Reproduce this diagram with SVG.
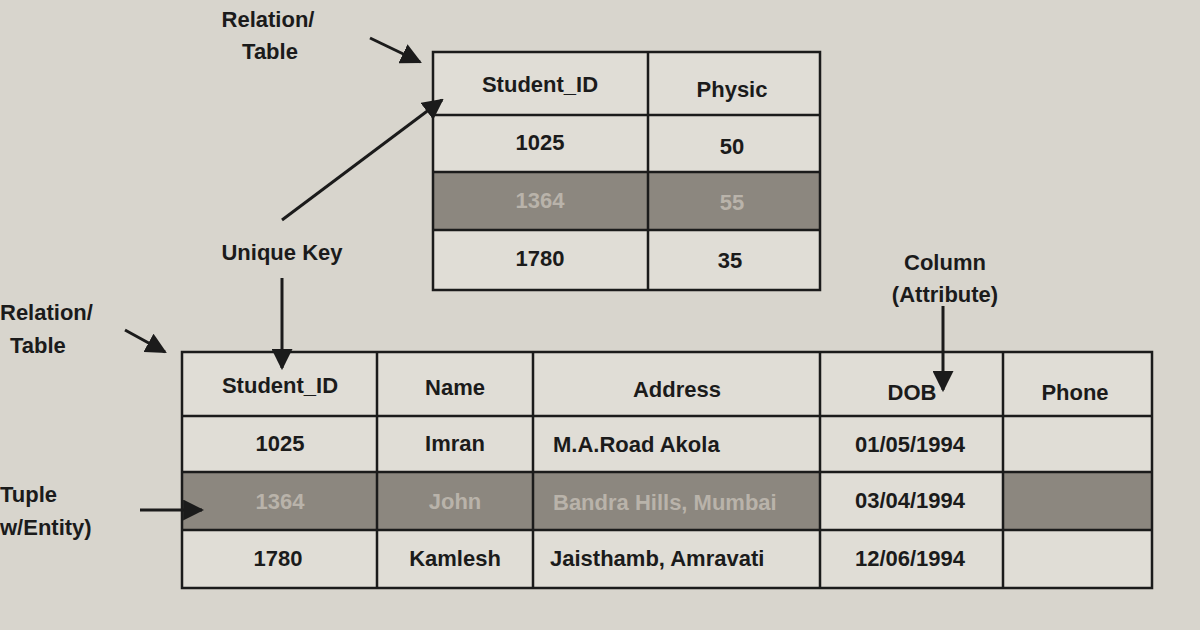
<svg xmlns="http://www.w3.org/2000/svg" width="1200" height="630" viewBox="0 0 1200 630">
<defs>
<marker id="ah" viewBox="0 0 10 10" refX="9" refY="5" markerWidth="7" markerHeight="7" orient="auto"><path d="M0,0L10,5L0,10z" fill="#1b1b1b"/></marker>
<style>
text{font-family:"Liberation Sans",Arial,sans-serif;font-weight:bold;font-size:22px;fill:#1b1b1b}
.c{text-anchor:middle}
.lt{fill:#b9b3aa}
.grid{fill:none;stroke:#1b1b1b;stroke-width:2.5}
.sh{fill:#8c877f}
.ar{stroke:#1b1b1b;stroke-width:3;fill:none;marker-end:url(#ah)}
</style>
</defs>
<rect width="1200" height="630" fill="#d8d5cd"/>
<g id="table1">
<rect x="433" y="52" width="387" height="238" fill="#e0ddd6"/>
<rect class="sh" x="433" y="172" width="387" height="58"/>
<rect class="grid" x="433" y="52" width="387" height="238"/>
<path class="grid" d="M648,52V290M433,115H820M433,172H820M433,230H820"/>
<text class="c" x="540" y="92">Student_ID</text><text class="c" x="732" y="97">Physic</text>
<text class="c" x="540" y="150">1025</text><text class="c" x="732" y="154">50</text>
<text class="c lt" x="540" y="208">1364</text><text class="c lt" x="732" y="210">55</text>
<text class="c" x="540" y="266">1780</text><text class="c" x="730" y="268">35</text>
</g>
<g id="table2">
<rect x="182" y="352" width="970" height="236" fill="#e0ddd6"/>
<rect class="sh" x="182" y="472" width="638" height="58"/>
<rect class="sh" x="1003" y="472" width="149" height="58"/>
<rect class="grid" x="182" y="352" width="970" height="236"/>
<path class="grid" d="M377,352V588M533,352V588M820,352V588M1003,352V588M182,416H1152M182,472H1152M182,530H1152"/>
<text class="c" x="280" y="393">Student_ID</text><text class="c" x="455" y="395">Name</text><text class="c" x="677" y="397">Address</text><text class="c" x="912" y="400">DOB</text><text class="c" x="1075" y="400">Phone</text>
<text class="c" x="280" y="451">1025</text><text class="c" x="455" y="451">Imran</text><text x="553" y="452">M.A.Road Akola</text><text class="c" x="910" y="452">01/05/1994</text>
<text class="c lt" x="280" y="509">1364</text><text class="c lt" x="455" y="509">John</text><text class="lt" x="553" y="510">Bandra Hills, Mumbai</text><text class="c" x="910" y="508">03/04/1994</text>
<text class="c" x="278" y="566">1780</text><text class="c" x="455" y="566">Kamlesh</text><text x="550" y="566">Jaisthamb, Amravati</text><text class="c" x="910" y="566">12/06/1994</text>
</g>
<g id="labels">
<text class="c" x="268" y="27">Relation/</text><text class="c" x="270" y="59">Table</text>
<text class="c" x="282" y="260">Unique Key</text>
<text x="0" y="320">Relation/</text><text x="10" y="353">Table</text>
<text class="c" x="945" y="270">Column</text><text class="c" x="945" y="302">(Attribute)</text>
<text x="0" y="502">Tuple</text><text x="0" y="535">w/Entity)</text>
</g>
<g id="connectors">
<path class="ar" d="M370,38L420,62"/>
<path class="ar" d="M282,220L442,100"/>
<path class="ar" d="M282,278V368"/>
<path class="ar" d="M125,330L165,352"/>
<path class="ar" d="M943,306V390"/>
<path class="ar" d="M140,510H202"/>
</g>
</svg>
